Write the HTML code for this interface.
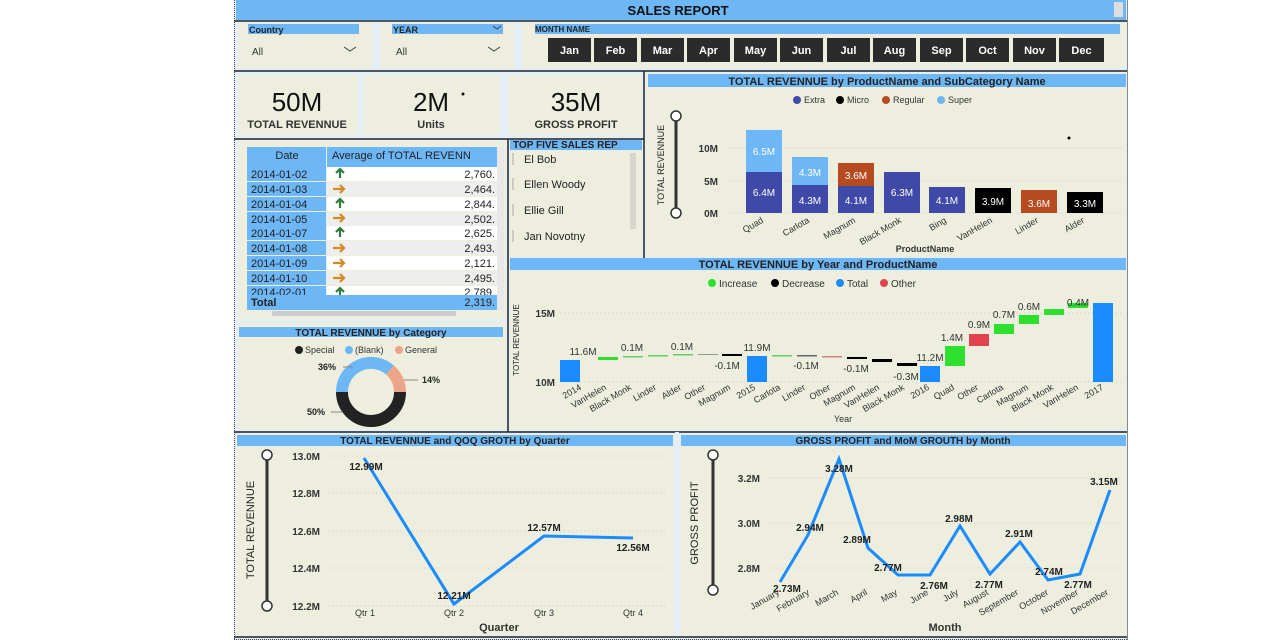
<!DOCTYPE html>
<html><head><meta charset="utf-8"><style>
html,body{margin:0;padding:0;background:#fff}
svg{display:block;font-family:"Liberation Sans",sans-serif}
.b{font-weight:bold}
</style></head><body>
<svg width="1280" height="640" viewBox="0 0 1280 640" xmlns="http://www.w3.org/2000/svg">
<rect width="1280" height="640" fill="#fff"/>
<rect x="234" y="0" width="894" height="640" fill="#e3eef8"/>
<line x1="234.5" y1="0" x2="234.5" y2="640" stroke="#444" stroke-dasharray="1,1"/>
<!-- title -->
<rect x="236" y="0" width="890" height="20" fill="#6db7f6"/>
<text x="678" y="15" font-size="13" class="b" text-anchor="middle" fill="#111">SALES REPORT</text>
<rect x="1114" y="2" width="9" height="15" fill="#ddd"/>
<line x1="234" y1="21" x2="1128" y2="21" stroke="#222" stroke-width="1.5"/>
<!-- slicers -->
<rect x="238" y="23" width="135" height="45" fill="#eeeedf"/>
<rect x="248" y="24" width="111" height="10" fill="#6db7f6"/>
<text x="249" y="33" font-size="9" class="b" fill="#222">Country</text>
<text x="252" y="55" font-size="10" fill="#333">All</text>
<path d="M344 47 l6 4 l6 -4" fill="none" stroke="#444"/>
<rect x="380" y="23" width="135" height="45" fill="#eeeedf"/>
<rect x="392" y="24" width="111" height="10" fill="#6db7f6"/>
<text x="393" y="33" font-size="9" class="b" fill="#222">YEAR</text>
<path d="M493 26 l4 3 l4 -3" fill="none" stroke="#444"/>
<text x="396" y="55" font-size="10" fill="#333">All</text>
<path d="M488 47 l6 4 l6 -4" fill="none" stroke="#444"/>
<rect x="522" y="23" width="604" height="45" fill="#eeeedf"/>
<rect x="535" y="24" width="585" height="10" fill="#6db7f6"/>
<text x="535" y="32" font-size="8" class="b" fill="#222">MONTH NAME</text>
<g font-size="11" class="b" fill="#fff" text-anchor="middle">
<rect x="548" y="38" width="43" height="24" fill="#2b2b2b"/><text x="569.5" y="54">Jan</text>
<rect x="594" y="38" width="43" height="24" fill="#2b2b2b"/><text x="615.5" y="54">Feb</text>
<rect x="641" y="38" width="43" height="24" fill="#2b2b2b"/><text x="662.5" y="54">Mar</text>
<rect x="687" y="38" width="43" height="24" fill="#2b2b2b"/><text x="708.5" y="54">Apr</text>
<rect x="734" y="38" width="43" height="24" fill="#2b2b2b"/><text x="755.5" y="54">May</text>
<rect x="780" y="38" width="43" height="24" fill="#2b2b2b"/><text x="801.5" y="54">Jun</text>
<rect x="827" y="38" width="43" height="24" fill="#2b2b2b"/><text x="848.5" y="54">Jul</text>
<rect x="873" y="38" width="43" height="24" fill="#2b2b2b"/><text x="894.5" y="54">Aug</text>
<rect x="920" y="38" width="43" height="24" fill="#2b2b2b"/><text x="941.5" y="54">Sep</text>
<rect x="966" y="38" width="43" height="24" fill="#2b2b2b"/><text x="987.5" y="54">Oct</text>
<rect x="1013" y="38" width="43" height="24" fill="#2b2b2b"/><text x="1034.5" y="54">Nov</text>
<rect x="1059" y="38" width="45" height="24" fill="#2b2b2b"/><text x="1081.5" y="54">Dec</text>
</g>
<line x1="234" y1="71" x2="1128" y2="71" stroke="#222" stroke-width="1.5"/>
<!-- KPIs -->
<rect x="238" y="75" width="120" height="60" fill="#eeeedf"/>
<rect x="363" y="75" width="137" height="60" fill="#eeeedf"/>
<rect x="508" y="75" width="134" height="60" fill="#eeeedf"/>
<g font-size="26" text-anchor="middle" fill="#111">
<text x="297" y="111">50M</text><text x="431" y="111">2M</text><text x="576" y="111">35M</text></g>
<circle cx="463" cy="94" r="1.5" fill="#111"/>
<g font-size="11" class="b" text-anchor="middle" fill="#333">
<text x="297" y="128">TOTAL REVENNUE</text><text x="431" y="128">Units</text><text x="576" y="128">GROSS PROFIT</text></g>
<line x1="234" y1="139" x2="644" y2="139" stroke="#222" stroke-width="1.5"/>
<line x1="644" y1="71" x2="644" y2="258" stroke="#222" stroke-width="1.5"/>
<!-- table -->
<rect x="238" y="141" width="268" height="178" fill="#eeeedf"/>
<rect x="247" y="147" width="250" height="20" fill="#6db7f6"/>
<line x1="326.5" y1="147" x2="326.5" y2="310" stroke="#e3eef8"/>
<text x="287" y="159" font-size="11" text-anchor="middle" fill="#222">Date</text>
<text x="332" y="159" font-size="11" fill="#222">Average of TOTAL REVENN</text>
<rect x="497" y="147" width="7" height="163" fill="#e8e8e8"/>
<g font-size="11" fill="#222">
<rect x="247" y="167" width="79" height="14" fill="#6db7f6"/><rect x="327" y="167" width="170" height="14" fill="#fff"/><text x="251" y="178">2014-01-02</text><text x="495" y="178" text-anchor="end">2,760.</text>
<rect x="247" y="182" width="79" height="14" fill="#6db7f6"/><rect x="327" y="182" width="170" height="14" fill="#eee"/><text x="251" y="193">2014-01-03</text><text x="495" y="193" text-anchor="end">2,464.</text>
<rect x="247" y="197" width="79" height="14" fill="#6db7f6"/><rect x="327" y="197" width="170" height="14" fill="#fff"/><text x="251" y="208">2014-01-04</text><text x="495" y="208" text-anchor="end">2,844.</text>
<rect x="247" y="212" width="79" height="14" fill="#6db7f6"/><rect x="327" y="212" width="170" height="14" fill="#eee"/><text x="251" y="223">2014-01-05</text><text x="495" y="223" text-anchor="end">2,502.</text>
<rect x="247" y="226" width="79" height="14" fill="#6db7f6"/><rect x="327" y="226" width="170" height="14" fill="#fff"/><text x="251" y="237">2014-01-07</text><text x="495" y="237" text-anchor="end">2,625.</text>
<rect x="247" y="241" width="79" height="14" fill="#6db7f6"/><rect x="327" y="241" width="170" height="14" fill="#eee"/><text x="251" y="252">2014-01-08</text><text x="495" y="252" text-anchor="end">2,493.</text>
<rect x="247" y="256" width="79" height="14" fill="#6db7f6"/><rect x="327" y="256" width="170" height="14" fill="#fff"/><text x="251" y="267">2014-01-09</text><text x="495" y="267" text-anchor="end">2,121.</text>
<rect x="247" y="271" width="79" height="14" fill="#6db7f6"/><rect x="327" y="271" width="170" height="14" fill="#eee"/><text x="251" y="282">2014-01-10</text><text x="495" y="282" text-anchor="end">2,495.</text>
<rect x="247" y="286" width="79" height="9" fill="#6db7f6"/><rect x="327" y="286" width="170" height="9" fill="#fff"/><text x="251" y="296">2014-02-01</text><text x="495" y="296" text-anchor="end">2,789.</text>
<rect x="247" y="295" width="250" height="15" fill="#6db7f6"/><text x="251" y="306" class="b">Total</text><text x="495" y="306" text-anchor="end">2,319.</text>
</g>
<g stroke-width="2.2" fill="none">
<path d="M340 178 v-9 M336 173 l4 -4 l4 4" stroke="#2f7d3d"/>
<path d="M333 189 h11 M340 185 l4 4 l-4 4" stroke="#d18b22"/>
<path d="M340 208 v-9 M336 203 l4 -4 l4 4" stroke="#2f7d3d"/>
<path d="M333 218 h11 M340 214 l4 4 l-4 4" stroke="#d18b22"/>
<path d="M340 237 v-9 M336 232 l4 -4 l4 4" stroke="#2f7d3d"/>
<path d="M333 248 h11 M340 244 l4 4 l-4 4" stroke="#d18b22"/>
<path d="M333 263 h11 M340 259 l4 4 l-4 4" stroke="#d18b22"/>
<path d="M333 278 h11 M340 274 l4 4 l-4 4" stroke="#d18b22"/>
<path d="M340 295 v-7 M336 292 l4 -4 l4 4" stroke="#2f7d3d"/>
</g>
<rect x="272" y="311" width="184" height="5" fill="#ccc"/>
<line x1="508" y1="139" x2="508" y2="432" stroke="#222" stroke-width="1.5"/>
<!-- top five -->
<rect x="510" y="141" width="132" height="116" fill="#eeeedf"/>
<rect x="510" y="140" width="132" height="10" fill="#6db7f6"/>
<text x="513" y="148" font-size="10" class="b" fill="#222">TOP FIVE SALES REP</text>
<rect x="630" y="153" width="6" height="76" fill="#d6d6cc"/>
<g font-size="11" fill="#222"><text x="524" y="163">El Bob</text><text x="524" y="188">Ellen Woody</text><text x="524" y="214">Ellie Gill</text><text x="524" y="240">Jan Novotny</text></g>
<g stroke="#aaa"><line x1="513" y1="153" x2="513" y2="165"/><line x1="513" y1="178" x2="513" y2="190"/><line x1="513" y1="204" x2="513" y2="216"/><line x1="513" y1="230" x2="513" y2="242"/></g>
<!-- donut -->
<rect x="238" y="323" width="268" height="106" fill="#eeeedf"/>
<rect x="239" y="327" width="264" height="10" fill="#6db7f6"/>
<text x="371" y="336" font-size="10" class="b" text-anchor="middle" fill="#222">TOTAL REVENNUE by Category</text>
<g font-size="9" fill="#333"><circle cx="299" cy="350" r="4" fill="#222"/><text x="305" y="353">Special</text><circle cx="349" cy="350" r="4" fill="#6db7f6"/><text x="355" y="353">(Blank)</text><circle cx="399" cy="350" r="4" fill="#eda58a"/><text x="405" y="353">General</text></g>
<g fill="none" stroke-width="12">
<path d="M342 392 A29 29 0 0 0 400 392" stroke="#222"/>
<path d="M342 392 A29 29 0 0 1 390 370" stroke="#6db7f6"/>
<path d="M390 370 A29 29 0 0 1 400 392" stroke="#eda58a"/>
</g>
<g font-size="9" class="b" fill="#222"><text x="318" y="370">36%</text><text x="422" y="383">14%</text><text x="307" y="415">50%</text></g>
<g stroke="#888"><path d="M343 367 h10"/><path d="M404 380 h14"/><path d="M331 412 h12"/></g>
<!-- stacked bar chart -->
<rect x="646" y="73" width="480" height="184" fill="#eeeedf"/>
<rect x="648" y="74" width="478" height="13" fill="#6db7f6"/>
<text x="887" y="85" font-size="11" class="b" text-anchor="middle" fill="#222">TOTAL REVENNUE by ProductName and SubCategory Name</text>
<g font-size="9" fill="#333"><circle cx="797" cy="100" r="4" fill="#3f4aa8"/><text x="804" y="103">Extra</text><circle cx="840" cy="100" r="4" fill="#000"/><text x="847" y="103">Micro</text><circle cx="886" cy="100" r="4" fill="#b54b1f"/><text x="893" y="103">Regular</text><circle cx="941" cy="100" r="4" fill="#6db7f6"/><text x="948" y="103">Super</text></g>
<g stroke="#ccc" stroke-dasharray="1,3"><line x1="725" y1="148" x2="1122" y2="148"/><line x1="725" y1="181" x2="1122" y2="181"/><line x1="725" y1="213" x2="1122" y2="213"/></g>
<g font-size="10" class="b" fill="#333" text-anchor="end"><text x="718" y="152">10M</text><text x="718" y="185">5M</text><text x="718" y="217">0M</text></g>
<line x1="676" y1="116" x2="676" y2="213" stroke="#333" stroke-width="3"/>
<circle cx="676" cy="116" r="5" fill="#fff" stroke="#333" stroke-width="1.5"/><circle cx="676" cy="213" r="5" fill="#fff" stroke="#333" stroke-width="1.5"/>
<text transform="translate(664,165) rotate(-90)" font-size="9" text-anchor="middle" fill="#222">TOTAL REVENNUE</text>
<rect x="746" y="172" width="36" height="41" fill="#3f4aa8"/><rect x="746" y="130" width="36" height="42" fill="#6db7f6"/>
<rect x="792" y="185" width="36" height="28" fill="#3f4aa8"/><rect x="792" y="157" width="36" height="28" fill="#6db7f6"/>
<rect x="838" y="186" width="36" height="27" fill="#3f4aa8"/><rect x="838" y="163" width="36" height="23" fill="#b54b1f"/>
<rect x="884" y="172" width="36" height="41" fill="#3f4aa8"/>
<rect x="929" y="187" width="36" height="26" fill="#3f4aa8"/>
<rect x="975" y="188" width="36" height="25" fill="#000"/>
<rect x="1021" y="190" width="36" height="23" fill="#b54b1f"/>
<rect x="1067" y="192" width="36" height="21" fill="#000"/>
<g font-size="10" fill="#fff" text-anchor="middle">
<text x="764" y="196">6.4M</text><text x="764" y="155">6.5M</text><text x="810" y="204">4.3M</text><text x="810" y="176">4.3M</text><text x="856" y="204">4.1M</text><text x="856" y="179">3.6M</text><text x="902" y="196">6.3M</text><text x="947" y="204">4.1M</text><text x="993" y="205">3.9M</text><text x="1039" y="207">3.6M</text><text x="1085" y="207">3.3M</text></g>
<g font-size="9" fill="#333" text-anchor="end">
<text transform="translate(764,222) rotate(-30)">Quad</text><text transform="translate(810,222) rotate(-30)">Carlota</text><text transform="translate(856,222) rotate(-30)">Magnum</text><text transform="translate(902,222) rotate(-30)">Black Monk</text><text transform="translate(947,222) rotate(-30)">Bing</text><text transform="translate(993,222) rotate(-30)">VanHelen</text><text transform="translate(1039,222) rotate(-30)">Linder</text><text transform="translate(1085,222) rotate(-30)">Alder</text></g>
<text x="925" y="252" font-size="9" class="b" text-anchor="middle" fill="#333">ProductName</text>
<circle cx="1069" cy="138" r="1.5" fill="#000"/>
<!-- waterfall -->
<rect x="510" y="259" width="616" height="170" fill="#eeeedf"/>
<rect x="510" y="258" width="616" height="12" fill="#6db7f6"/>
<text x="818" y="268" font-size="11" class="b" text-anchor="middle" fill="#222">TOTAL REVENNUE by Year and ProductName</text>
<g font-size="10" fill="#333"><circle cx="712" cy="283" r="4" fill="#2de02d"/><text x="719" y="287">Increase</text><circle cx="775" cy="283" r="4" fill="#000"/><text x="782" y="287">Decrease</text><circle cx="840" cy="283" r="4" fill="#1a8cff"/><text x="847" y="287">Total</text><circle cx="884" cy="283" r="4" fill="#e0434f"/><text x="891" y="287">Other</text></g>
<g stroke="#ccc" stroke-dasharray="1,3"><line x1="560" y1="313" x2="1122" y2="313"/><line x1="560" y1="382" x2="1122" y2="382"/></g>
<g font-size="10" class="b" fill="#333" text-anchor="end"><text x="555" y="317">15M</text><text x="555" y="386">10M</text></g>
<text transform="translate(519,340) rotate(-90)" font-size="8" text-anchor="middle" fill="#222">TOTAL REVENNUE</text>
<rect x="560" y="360" width="20" height="22" fill="#1a8cff"/>
<rect x="598" y="357" width="20" height="3" fill="#2de02d"/>
<rect x="623" y="356" width="20" height="1.5" fill="#6c6"/>
<rect x="648" y="355" width="20" height="1.5" fill="#6c6"/>
<rect x="673" y="354" width="20" height="1.5" fill="#6c6"/>
<rect x="698" y="354" width="20" height="1" fill="#999"/>
<rect x="722" y="354" width="20" height="2" fill="#000"/>
<rect x="747" y="356" width="20" height="26" fill="#1a8cff"/>
<rect x="772" y="355" width="20" height="1.5" fill="#6c6"/>
<rect x="797" y="355" width="20" height="1.5" fill="#666"/>
<rect x="822" y="356" width="20" height="1.5" fill="#c88"/>
<rect x="847" y="357" width="20" height="2" fill="#000"/>
<rect x="872" y="359" width="20" height="3" fill="#000"/>
<rect x="897" y="363" width="20" height="3" fill="#000"/>
<rect x="920" y="366" width="20" height="16" fill="#1a8cff"/>
<rect x="945" y="346" width="20" height="20" fill="#2de02d"/>
<rect x="969" y="334" width="20" height="12" fill="#e0434f"/>
<rect x="994" y="324" width="20" height="10" fill="#2de02d"/>
<rect x="1019" y="315" width="20" height="9" fill="#2de02d"/>
<rect x="1044" y="309" width="20" height="6" fill="#2de02d"/>
<rect x="1068" y="303" width="20" height="5" fill="#2de02d"/>
<rect x="1093" y="303" width="20" height="79" fill="#1a8cff"/>
<g font-size="10" fill="#333" text-anchor="middle">
<text x="583" y="355">11.6M</text><text x="632" y="351">0.1M</text><text x="682" y="350">0.1M</text><text x="727" y="369">-0.1M</text><text x="757" y="351">11.9M</text><text x="806" y="369">-0.1M</text><text x="856" y="372">-0.1M</text><text x="906" y="380">-0.3M</text><text x="930" y="361">11.2M</text><text x="952" y="341">1.4M</text><text x="979" y="328">0.9M</text><text x="1004" y="318">0.7M</text><text x="1029" y="310">0.6M</text><text x="1078" y="306">0.4M</text></g>
<g font-size="9" fill="#333" text-anchor="end">
<text transform="translate(582,389) rotate(-30)">2014</text><text transform="translate(607,389) rotate(-30)">VanHelen</text><text transform="translate(632,389) rotate(-30)">Black Monk</text><text transform="translate(657,389) rotate(-30)">Linder</text><text transform="translate(682,389) rotate(-30)">Alder</text><text transform="translate(706,389) rotate(-30)">Other</text><text transform="translate(731,389) rotate(-30)">Magnum</text><text transform="translate(756,389) rotate(-30)">2015</text><text transform="translate(781,389) rotate(-30)">Carlota</text><text transform="translate(806,389) rotate(-30)">Linder</text><text transform="translate(831,389) rotate(-30)">Other</text><text transform="translate(856,389) rotate(-30)">Magnum</text><text transform="translate(880,389) rotate(-30)">VanHelen</text><text transform="translate(905,389) rotate(-30)">Black Monk</text><text transform="translate(930,389) rotate(-30)">2016</text><text transform="translate(955,389) rotate(-30)">Quad</text><text transform="translate(979,389) rotate(-30)">Other</text><text transform="translate(1004,389) rotate(-30)">Carlota</text><text transform="translate(1029,389) rotate(-30)">Magnum</text><text transform="translate(1054,389) rotate(-30)">Black Monk</text><text transform="translate(1079,389) rotate(-30)">VanHelen</text><text transform="translate(1104,389) rotate(-30)">2017</text></g>
<text x="843" y="422" font-size="9" text-anchor="middle" fill="#333">Year</text>
<line x1="234" y1="432" x2="1128" y2="432" stroke="#222" stroke-width="1.5"/>
<!-- quarter line chart -->
<rect x="236" y="434" width="438" height="201" fill="#eeeedf"/>
<rect x="237" y="435" width="436" height="11" fill="#6db7f6"/>
<text x="455" y="444" font-size="10" class="b" text-anchor="middle" fill="#222">TOTAL REVENNUE and QOQ GROTH by Quarter</text>
<g stroke="#ccc" stroke-dasharray="1,3"><line x1="328" y1="456" x2="665" y2="456"/><line x1="328" y1="493" x2="665" y2="493"/><line x1="328" y1="531" x2="665" y2="531"/><line x1="328" y1="568" x2="665" y2="568"/><line x1="328" y1="606" x2="665" y2="606"/></g>
<g font-size="10" class="b" fill="#333" text-anchor="end"><text x="320" y="460">13.0M</text><text x="320" y="497">12.8M</text><text x="320" y="535">12.6M</text><text x="320" y="572">12.4M</text><text x="320" y="610">12.2M</text></g>
<line x1="267" y1="455" x2="267" y2="606" stroke="#333" stroke-width="3"/>
<circle cx="267" cy="455" r="5" fill="#fff" stroke="#333" stroke-width="1.5"/><circle cx="267" cy="606" r="5" fill="#fff" stroke="#333" stroke-width="1.5"/>
<text transform="translate(254,530) rotate(-90)" font-size="11" text-anchor="middle" fill="#222">TOTAL REVENNUE</text>
<polyline points="364,458 454,604 544,536 633,538" fill="none" stroke="#1a8cff" stroke-width="3"/>
<g font-size="10" class="b" fill="#222" text-anchor="middle"><text x="366" y="470">12.99M</text><text x="454" y="599">12.21M</text><text x="544" y="531">12.57M</text><text x="633" y="551">12.56M</text></g>
<g font-size="9" fill="#333" text-anchor="middle"><text x="365" y="616">Qtr 1</text><text x="454" y="616">Qtr 2</text><text x="544" y="616">Qtr 3</text><text x="633" y="616">Qtr 4</text></g>
<text x="499" y="631" font-size="11" class="b" text-anchor="middle" fill="#333">Quarter</text>
<line x1="677" y1="432" x2="677" y2="640" stroke="#e3eef8" stroke-width="4"/>
<!-- month line chart -->
<rect x="680" y="434" width="446" height="201" fill="#eeeedf"/>
<rect x="681" y="435" width="445" height="11" fill="#6db7f6"/>
<text x="903" y="444" font-size="10" class="b" text-anchor="middle" fill="#222">GROSS PROFIT and MoM GROUTH by Month</text>
<g stroke="#ccc" stroke-dasharray="1,3"><line x1="770" y1="478" x2="1122" y2="478"/><line x1="770" y1="523" x2="1122" y2="523"/><line x1="770" y1="568" x2="1122" y2="568"/></g>
<g font-size="10" class="b" fill="#333" text-anchor="end"><text x="760" y="482">3.2M</text><text x="760" y="527">3.0M</text><text x="760" y="572">2.8M</text></g>
<line x1="713" y1="455" x2="713" y2="590" stroke="#333" stroke-width="3"/>
<circle cx="713" cy="455" r="5" fill="#fff" stroke="#333" stroke-width="1.5"/><circle cx="713" cy="590" r="5" fill="#fff" stroke="#333" stroke-width="1.5"/>
<text transform="translate(698,523) rotate(-90)" font-size="11" text-anchor="middle" fill="#222">GROSS PROFIT</text>
<polyline points="780,582 808,535 839,459 868,548 898,575 930,575 960,526 990,574 1020,542 1048,580 1080,574 1110,490" fill="none" stroke="#1a8cff" stroke-width="3"/>
<g font-size="10" class="b" fill="#222" text-anchor="middle"><text x="787" y="592">2.73M</text><text x="810" y="531">2.94M</text><text x="839" y="472">3.28M</text><text x="857" y="543">2.89M</text><text x="888" y="571">2.77M</text><text x="934" y="589">2.76M</text><text x="959" y="522">2.98M</text><text x="989" y="588">2.77M</text><text x="1019" y="537">2.91M</text><text x="1049" y="575">2.74M</text><text x="1078" y="588">2.77M</text><text x="1104" y="485">3.15M</text></g>
<g font-size="9" fill="#333" text-anchor="end">
<text transform="translate(780,594) rotate(-30)">January</text><text transform="translate(810,594) rotate(-30)">February</text><text transform="translate(839,594) rotate(-30)">March</text><text transform="translate(868,594) rotate(-30)">April</text><text transform="translate(898,594) rotate(-30)">May</text><text transform="translate(929,594) rotate(-30)">June</text><text transform="translate(959,594) rotate(-30)">July</text><text transform="translate(989,594) rotate(-30)">August</text><text transform="translate(1019,594) rotate(-30)">September</text><text transform="translate(1049,594) rotate(-30)">October</text><text transform="translate(1079,594) rotate(-30)">November</text><text transform="translate(1109,594) rotate(-30)">December</text></g>
<text x="945" y="631" font-size="11" class="b" text-anchor="middle" fill="#333">Month</text>
<line x1="234" y1="637" x2="1128" y2="637" stroke="#222" stroke-width="1.5"/>
<line x1="234" y1="639.5" x2="1128" y2="639.5" stroke="#444" stroke-dasharray="1,1"/>
<line x1="1127.5" y1="0" x2="1127.5" y2="640" stroke="#888"/>
</svg>
</body></html>
